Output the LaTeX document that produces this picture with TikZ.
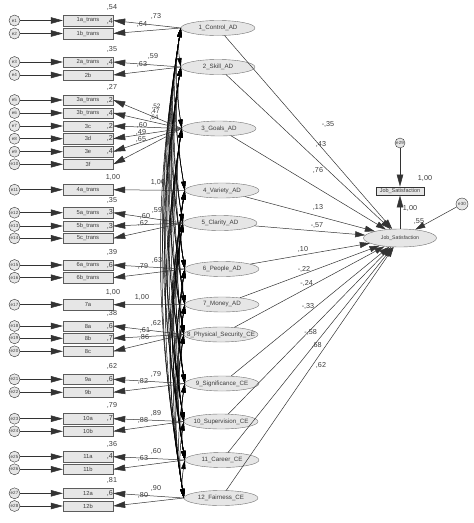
\documentclass[tikz,border=0pt]{standalone}
\usepackage{fontspec}
\setmainfont{Liberation Sans}
\usetikzlibrary{shapes.geometric,arrows.meta}
\definecolor{bx}{HTML}{E6E6E6}
\definecolor{ln}{HTML}{333333}
\definecolor{tx}{HTML}{3C3C3C}
\begin{document}
\begin{tikzpicture}[x=1pt,y=-1pt,
 err/.style={circle,draw=ln,fill=bx,minimum size=11pt,inner sep=0pt,font=\fontsize{4.5}{5}\selectfont,text=tx},
 item/.style={rectangle,draw=ln!80,fill=bx,minimum width=50pt,minimum height=10.5pt,inner sep=0pt,font=\fontsize{5.8}{6}\selectfont,text=tx},
 fac/.style={ellipse,draw=ln!70,fill=bx,minimum width=74pt,minimum height=15pt,inner sep=0pt,label={[font=\fontsize{6.2}{7}\selectfont,text=tx]center:#1}},
 num/.style={font=\fontsize{7.2}{8}\selectfont,text=tx,inner sep=0pt},
 sml/.style={font=\fontsize{6.4}{7}\selectfont,text=tx,inner sep=0pt},
 ea/.style={draw=ln,line width=0.5pt,-{Triangle[length=12pt,width=6.5pt]}},
 ld/.style={draw=ln,line width=0.5pt,-{Triangle[length=12pt,width=6.5pt]}},
 sp/.style={draw=ln,line width=0.5pt,-{Triangle[length=10pt,width=6pt]}},
 cov/.style={draw=black,line width=0.5pt,{Triangle[length=9pt,width=4.5pt]}-{Triangle[length=9pt,width=4.5pt]}}
]
\useasboundingbox (0,0) rectangle (474,523);
% factors
\node[fac={1\_Control\_AD}] (f1) at (218,28) {};
\node[fac={2\_Skill\_AD}] (f2) at (218,67) {};
\node[fac={3\_Goals\_AD}] (f3) at (219,128.5) {};
\node[fac={4\_Variety\_AD}] (f4) at (222,190.5) {};
\node[fac={5\_Clarity\_AD}] (f5) at (220,223) {};
\node[fac={6\_People\_AD}] (f6) at (222,269) {};
\node[fac={7\_Money\_AD}] (f7) at (222,304.5) {};
\node[fac={8\_Physical\_Security\_CE}] (f8) at (221,334.5) {};
\node[fac={9\_Significance\_CE}] (f9) at (222,383.5) {};
\node[fac={10\_Supervision\_CE}] (f10) at (221,421.5) {};
\node[fac={11\_Career\_CE}] (f11) at (222,460) {};
\node[fac={12\_Fairness\_CE}] (f12) at (221,498) {};
% items and errors
\foreach \n/\t/\y [count=\c] in {
 1a/1a\_trans/20.5, 1b/1b\_trans/33.5,
 2a/2a\_trans/62, 2b/2b/75,
 3a/3a\_trans/100, 3b/3b\_trans/113, 3c/3c/126, 3d/3d/138.7, 3e/3e/151.7, 3f/3f/164.3,
 4a/4a\_trans/189.7,
 5a/5a\_trans/212.7, 5b/5b\_trans/226, 5c/5c\_trans/238.3,
 6a/6a\_trans/265, 6b/6b\_trans/277.7,
 7a/7a/304.7,
 8a/8a/326, 8b/8b/338.3, 8c/8c/351.3,
 9a/9a/379.3, 9b/9b/392.3,
 10a/10a/418.7, 10b/10b/431.3,
 11a/11a/456.7, 11b/11b/469.3,
 12a/12a/493.3, 12b/12b/506}{
 \node[item] (i\n) at (88,\y) {\t};
 \node[err] (e\c) at (14.5,\y) {e\c};
 \draw[ea] (e\c) -- (i\n);
}
% dependent variable
\node[ellipse,draw=ln!70,fill=bx,minimum width=73pt,minimum height=18pt,inner sep=0pt,font=\fontsize{5.2}{6}\selectfont,text=tx] (js) at (400,238) {Job\_Satisfaction};
\node[rectangle,draw=ln,fill=bx,minimum width=48pt,minimum height=8.5pt,inner sep=0pt,font=\fontsize{5.5}{6}\selectfont,text=tx] (jsb) at (400,191) {Job\_Satisfaction};
\node[err,minimum size=10pt] (e29) at (400,143) {e29};
\node[err,minimum size=12pt] (e30) at (462,204) {e30};
\draw[ea] (e29) -- (jsb);
\draw[ea] (js) -- (jsb);
\draw[sp] (e30) -- (js);
% covariances
\foreach \i in {1,...,11}{
 \pgfmathtruncatemacro\s{\i+1}
 \foreach \j in {\s,...,12}{
  \draw[cov] (f\i.west) to[out=-99,in=99] (f\j.west);
 }
}
% loadings
\foreach \f/\n in {1/1a,1/1b,2/2a,2/2b,3/3a,3/3b,3/3c,3/3d,3/3e,3/3f,4/4a,5/5a,5/5b,5/5c,6/6a,6/6b,7/7a,8/8a,8/8b,8/8c,9/9a,9/9b,10/10a,10/10b,11/11a,11/11b,12/12a,12/12b}{
 \draw[ld] (f\f.west) -- (i\n.east);
}
% structural paths
\foreach \k in {1,...,12}{ \draw[sp] (f\k) -- (js); }
% close-set loading labels of 3_Goals_AD
\node[sml] (g1) at (156,106.5) {,52};
\node[sml] (g2) at (155,112) {,47};
\node[sml] (g3) at (154,117.5) {,64};
% other labels
\foreach \x/\y/\t [count=\c] in {
 112/7/{,54}, 110/21/{,4}, 156/16.5/{,73}, 142/24/{,64},
 112/49.3/{,35}, 110/62/{,4}, 153/56.7/{,59}, 142/64/{,63},
 112/87.3/{,27}, 110/100/{,2}, 110/113/{,4}, 110/126/{,2}, 110/138.7/{,2}, 110/151.7/{,4},
 142/125.5/{,60}, 141/132.5/{,49}, 141/139/{,65},
 113/177.3/{1,00}, 158/182.3/{1,00},
 112/200/{,35}, 110/212.7/{,3}, 110/226/{,3}, 157/210.7/{,59}, 145/216.7/{,60}, 143/223.3/{,62},
 112/252.3/{,39}, 110/265/{,6}, 157/260/{,63}, 143/266.7/{,79},
 113/292.7/{1,00}, 142/297.7/{1,00},
 112/313.3/{,38}, 110/326/{,6}, 110/338.3/{,7}, 156/323.3/{,62}, 145/330/{,61}, 144/337.3/{,86},
 112/366.7/{,62}, 110/379.3/{,6}, 156/374.3/{,79}, 143/381.3/{,82},
 112/405.7/{,79}, 110/418.7/{,7}, 156/413.3/{,89}, 143/420.7/{,88},
 112/444/{,36}, 110/456.7/{,4}, 156/451.7/{,60}, 143/458.7/{,63},
 112/480/{,81}, 110/493.3/{,6}, 156/488.3/{,90}, 143/495.7/{,80},
 328/124/{-,35}, 321/144/{,43}, 318/170.7/{,76}, 318/207/{,13}, 317/225.7/{-,57},
 303/249.5/{,10}, 304/269/{-,22}, 306.7/283/{-,24}, 308/306.7/{-,33}, 310.7/332/{-,58},
 316.7/345/{,68}, 321/365/{,62},
 425/178.3/{1,00}, 410/208/{1,00}, 419/221/{,55}}{
 \node[num] (n\c) at (\x,\y) {\t};
}
\end{tikzpicture}
\end{document}
